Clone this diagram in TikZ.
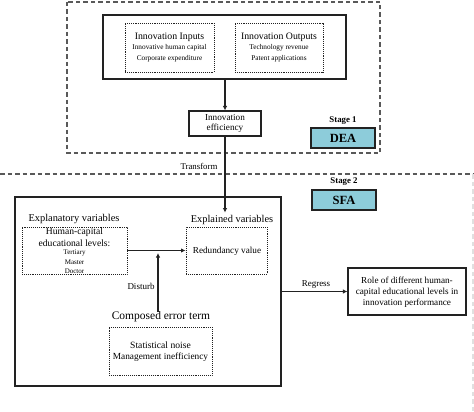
\documentclass[tikz,border=0pt]{standalone}
\usepackage{fontspec}
\setmainfont{Liberation Serif}
\usetikzlibrary{arrows.meta}
\definecolor{stageblue}{HTML}{8DCCDA}
\definecolor{ink}{HTML}{222222}
\tikzset{
  box/.style={draw=ink, line width=1.1pt, inner sep=0pt, align=center},
  dotbox/.style={draw=ink, densely dotted, line width=0.9pt, inner sep=0pt, align=center},
  stagebox/.style={draw=ink, line width=1.1pt, fill=stageblue, inner sep=0pt, font=\bfseries\fontsize{12.5}{14}\selectfont},
  stagelbl/.style={inner sep=0pt, font=\bfseries\fontsize{8.8}{10}\selectfont},
  lbl/.style={inner sep=0pt, align=center},
  arr/.style={draw=ink, line width=1.2pt, -{Latex[length=4.5pt,width=4.5pt]}},
  stagedash/.style={draw=black!65, dashed, dash pattern=on 4.5pt off 3pt, line width=1.1pt},
}
\begin{document}
\begin{tikzpicture}[x=1pt,y=-1pt]
\useasboundingbox (0,0) rectangle (474,412);
% Stage 1 region
\draw[stagedash] (67,2) rectangle (380,153);
\node[box, minimum width=243pt, minimum height=64pt] (deabox) at (224.5,47) {};
\node[dotbox, minimum width=89pt, minimum height=49pt] (inputs) at (169.5,47.5) {};
\node[dotbox, minimum width=88pt, minimum height=49pt] (outputs) at (279,47.5) {};
\node[lbl, font=\fontsize{9.8}{11}\selectfont] (inT) at (169.5,37) {Innovation Inputs};
\node[lbl, font=\fontsize{7.3}{8}\selectfont] (in1) at (169.5,48) {Innovative human capital};
\node[lbl, font=\fontsize{7.3}{8}\selectfont] (in2) at (169.5,59) {Corporate expenditure};
\node[lbl, font=\fontsize{9.8}{11}\selectfont] (outT) at (279,37) {Innovation Outputs};
\node[lbl, font=\fontsize{7.3}{8}\selectfont] (out1) at (279,48) {Technology revenue};
\node[lbl, font=\fontsize{7.3}{8}\selectfont] (out2) at (279,59) {Patent applications};
\node[box, minimum width=72pt, minimum height=25pt, font=\fontsize{9.2}{10.5}\selectfont] (eff) at (225,123.5) {Innovation\\efficiency};
\node[stagelbl] (s1) at (343,121) {Stage 1};
\node[stagebox, minimum width=64pt, minimum height=20pt] (dea) at (343,138) {DEA};
\draw[arr] (deabox.south -| eff.north) -- (eff.north);
% Stage 2 region
\draw[stagedash] (0,174) -- (474,174);
\draw[draw=black!12, dashed, dash pattern=on 4.5pt off 3pt, line width=1.1pt] (473,174) -- (473,412);
\node[lbl, font=\fontsize{8.8}{10}\selectfont] (transform) at (199,166) {Transform};
\node[stagelbl] (s2) at (344,182) {Stage 2};
\node[stagebox, minimum width=64pt, minimum height=20pt] (sfa) at (344,200) {SFA};
\node[box, minimum width=266pt, minimum height=189pt] (sfabox) at (148,291.5) {};
\node[lbl, font=\fontsize{10.4}{12}\selectfont] (expl) at (74,219.5) {Explanatory variables};
\node[lbl, font=\fontsize{10.4}{12}\selectfont, inner ysep=2pt] (explained) at (232,219.5) {Explained variables};
\node[dotbox, minimum width=105pt, minimum height=47pt] (human) at (74.5,250.5) {};
\node[lbl, font=\fontsize{9.6}{10}\selectfont] (h1) at (74.5,232.5) {Human-capital};
\node[lbl, font=\fontsize{9.6}{10}\selectfont] (h2) at (74.5,243.5) {educational levels:};
\node[lbl, font=\fontsize{7}{8}\selectfont] (h3) at (74.5,253) {Tertiary};
\node[lbl, font=\fontsize{7}{8}\selectfont] (h4) at (74.5,262) {Master};
\node[lbl, font=\fontsize{7}{8}\selectfont] (h5) at (74.5,271) {Doctor};
\node[dotbox, minimum width=81pt, minimum height=47pt] (red) at (226.5,250.5) {};
\node[lbl, font=\fontsize{9.2}{10}\selectfont] (redT) at (227,251) {Redundancy value};
\draw[arr] (eff.south) -- (eff.south |- explained.north);
\draw[arr] (human.east) -- (red.west);
\node[lbl, font=\fontsize{11.5}{13}\selectfont] (cet) at (161,317) {Composed error term};
\coordinate (dist) at (158,253);
\draw[arr] (cet.north -| dist) -- (dist);
\node[lbl, font=\fontsize{9}{10}\selectfont] (disturb) at (141,286) {Disturb};
\node[dotbox, minimum width=103pt, minimum height=48pt] (err) at (160.5,351) {};
\node[lbl, font=\fontsize{9.6}{10}\selectfont] (e1) at (160.5,345) {Statistical noise};
\node[lbl, font=\fontsize{9.3}{10}\selectfont] (e2) at (160.5,357) {Management inefficiency};
\node[box, minimum width=118pt, minimum height=47pt] (role) at (407,291.5) {};
\node[lbl, font=\fontsize{9.2}{10.9}\selectfont] (roleT) at (407,292) {Role of different human-\\capital educational levels in\\innovation performance};
\draw[arr] (sfabox.east) -- (role.west);
\node[lbl, font=\fontsize{9}{10}\selectfont] (regress) at (316,285) {Regress};
\end{tikzpicture}
\end{document}
